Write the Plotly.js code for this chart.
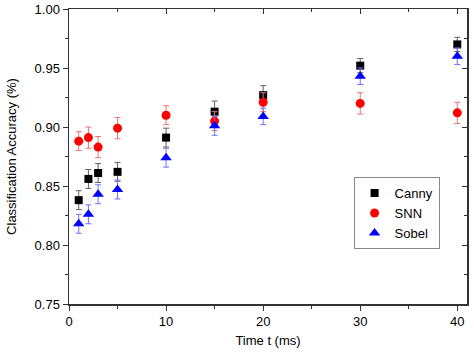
<!DOCTYPE html>
<html>
<head>
<meta charset="utf-8">
<script src="https://cdn.plot.ly/plotly-3.0.1.min.js"></script>
<style>html,body{margin:0;padding:0;background:#fff;}#chart{width:474px;height:354px;}</style>
</head>
<body>
<div id="chart"></div>
<script>
var timeMs = [1, 2, 3, 5, 10, 15, 20, 30, 40];
var canny = [0.838, 0.856, 0.861, 0.862, 0.891, 0.913, 0.927, 0.952, 0.970];
var cannyErr = [0.008, 0.008, 0.008, 0.008, 0.008, 0.009, 0.008, 0.006, 0.006];
var snn = [0.888, 0.891, 0.883, 0.899, 0.910, 0.905, 0.921, 0.920, 0.912];
var snnErr = [0.008, 0.009, 0.009, 0.009, 0.008, 0.008, 0.008, 0.009, 0.009];
var sobel = [0.818, 0.826, 0.843, 0.847, 0.874, 0.901, 0.909, 0.943, 0.960];
var sobelErr = [0.008, 0.008, 0.008, 0.008, 0.008, 0.008, 0.007, 0.007, 0.007];

function series(name, y, err, sym, col, ecol, size) {
  return {
    x: timeMs, y: y, name: name, type: 'scatter', mode: 'markers',
    marker: {symbol: sym, color: col, size: size},
    error_y: {type: 'data', array: err, visible: true, color: ecol, thickness: 1, width: 3}
  };
}
var data = [
  series('Canny', canny, cannyErr, 'square', '#000000', '#606060', 8),
  series('SNN', snn, snnErr, 'circle', '#ff0000', '#f07070', 9),
  series('Sobel', sobel, sobelErr, 'triangle-up', '#0000ff', '#7070ff', 10),
  {x: [timeMs[0]], y: [snn[0]], xaxis: 'x2', yaxis: 'y2', type: 'scatter', mode: 'markers',
   marker: {opacity: 0}, showlegend: false, hoverinfo: 'skip'}
];
var font = {family: 'Liberation Sans, Arial, sans-serif', color: '#000', size: 13};
var layout = {
  width: 474, height: 354,
  margin: {l: 69, r: 7, t: 9, b: 50},
  paper_bgcolor: '#fff', plot_bgcolor: '#fff',
  font: font,
  showlegend: true,
  legend: {x: 0.715, y: 0.43, xanchor: 'left', yanchor: 'top', bgcolor: '#fff',
           bordercolor: '#888', borderwidth: 1, font: {family: font.family, size: 13, color: '#000'},
           tracegroupgap: 0, itemsizing: 'trace'},
  xaxis: {range: [0, 41], dtick: 10, tick0: 0, ticks: 'outside', ticklen: 5, tickwidth: 1,
          showgrid: false, zeroline: false, showline: true, linecolor: '#333', linewidth: 1.5,
          tickcolor: '#333',
          minor: {dtick: 5, ticks: 'outside', ticklen: 3, tickcolor: '#333', showgrid: false},
          title: {text: 'Time t (ms)', font: {family: font.family, size: 13}, standoff: 8}},
  yaxis: {range: [0.75, 1.0], dtick: 0.05, tick0: 0.75, tickformat: '.2f', ticks: 'outside',
          ticklen: 5, tickwidth: 1, showgrid: false, zeroline: false, showline: true,
          linecolor: '#333', linewidth: 1.5, tickcolor: '#333',
          minor: {dtick: 0.025, ticks: 'outside', ticklen: 3, tickcolor: '#333', showgrid: false},
          title: {text: 'Classification Accuracy (%)', font: {family: font.family, size: 13}, standoff: 15}},
  xaxis2: {overlaying: 'x', side: 'top', anchor: 'y2', range: [0, 41], dtick: 10, tick0: 0,
           ticks: 'inside', ticklen: 5, showticklabels: false, showgrid: false, zeroline: false,
           showline: true, linecolor: '#333', linewidth: 1.5, tickcolor: '#333',
           minor: {dtick: 5, ticks: 'inside', ticklen: 3, tickcolor: '#333', showgrid: false}},
  yaxis2: {overlaying: 'y', side: 'right', anchor: 'x2', range: [0.75, 1.0], dtick: 0.05, tick0: 0.75,
           ticks: 'inside', ticklen: 5, showticklabels: false, showgrid: false, zeroline: false,
           showline: true, linecolor: '#333', linewidth: 1.5, tickcolor: '#333',
           minor: {dtick: 0.025, ticks: 'inside', ticklen: 3, tickcolor: '#333', showgrid: false}}
};
Plotly.newPlot('chart', data, layout, {staticPlot: true, displayModeBar: false});
</script>
</body>
</html>
